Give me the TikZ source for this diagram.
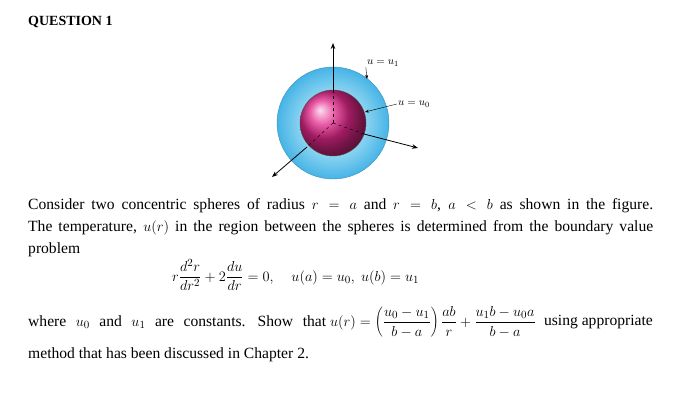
\documentclass[tikz,border=0pt]{standalone}
\usepackage{fontspec}
\setmainfont{Liberation Serif}
\usetikzlibrary{arrows.meta}
\definecolor{pinkball}{RGB}{228,40,140}
\definecolor{shellout}{RGB}{70,180,230}
\begin{document}
\begin{tikzpicture}[x=1pt,y=-1pt,
  txt/.style={anchor=west,inner sep=0pt,font=\fontsize{15.6}{22}\selectfont},
  axis/.style={-{Stealth[length=6pt]},thick},
  lbl/.style={inner sep=1pt,font=\fontsize{11}{12}\selectfont}]
\useasboundingbox (0,0) rectangle (700,417);
\fill[white] (0,0) rectangle (700,417);
\node[txt,font=\bfseries\fontsize{14}{16}\selectfont] (q) at (28,22) {QUESTION 1};
% spheres
\coordinate (o) at (333,123);
\shade[inner color=cyan!8,outer color=shellout] (o) circle (56);
\draw[shellout!80!black,thin] (o) circle (56);
\shade[ball color=pinkball] (o) circle (33);
\draw[black!70] (o) circle (33);
\coordinate (top) at (333,90);
\coordinate (rt) at (364,134);
\coordinate (dl) at (307,147);
\draw[dashed] (o) -- (top);
\draw[dashed] (o) -- (rt);
\draw[dashed] (o) -- (dl);
\coordinate (et) at (333,43);
\coordinate (er) at (418,148);
\coordinate (edl) at (272,177);
\draw[axis] (top) -- (et);
\draw[axis] (rt) -- (er);
\draw[axis] (dl) -- (edl);
\node[lbl] (l1) at (383,63) {$u=u_1$};
\node[lbl] (l0) at (414,104) {$u=u_0$};
\coordinate (p1) at (367,79);
\coordinate (p0) at (365,112);
\draw[-{Stealth[length=4pt]}] (l1.south west) -- (p1);
\draw[-{Stealth[length=4pt]}] (l0.west) -- (p0);
% text
\node[txt,text width=625pt,align=justify,anchor=north west] (para) at (28,198)
 {Consider two concentric spheres of radius $r=a$ and $r=b$, $a<b$ as shown in the figure. The temperature, $u(r)$ in the region between the spheres is determined from the boundary value\linebreak problem};
\node[txt] (eq1) at (172,275) {$\displaystyle r\frac{d^2r}{dr^2}+2\frac{du}{dr}=0,\quad u(a)=u_0,\ u(b)=u_1$};
\node[txt,text width=298pt] (w) at (28,322) {where \hfill $u_0$ \hfill and \hfill $u_1$ \hfill are \hfill constants. \hfill Show \hfill that};
\node[txt] (eq2) at (330,322) {$\displaystyle u(r)=\left(\frac{u_0-u_1}{b-a}\right)\frac{ab}{r}+\frac{u_1b-u_0a}{b-a}$};
\node[txt,anchor=east] (up) at (653,322) {using appropriate};
\node[txt] (m) at (28,355) {method that has been discussed in Chapter 2.};
\end{tikzpicture}
\end{document}
